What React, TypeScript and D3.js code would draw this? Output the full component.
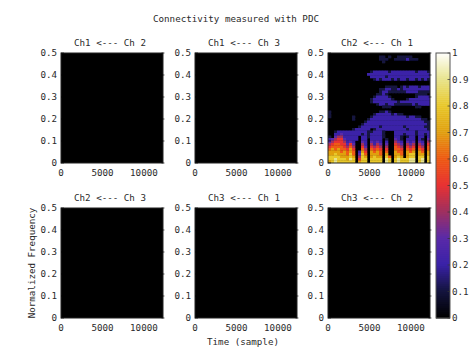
import React from "react";
import * as d3 from "d3";

const titles = ["Ch1 <--- Ch 2", "Ch1 <--- Ch 3", "Ch2 <--- Ch 1", "Ch2 <--- Ch 3", "Ch3 <--- Ch 1", "Ch3 <--- Ch 2"];
const xTicks = [0, 5000, 10000];
const yTicks = [0, 0.1, 0.2, 0.3, 0.4, 0.5];
const barTicks = [0, 0.1, 0.2, 0.3, 0.4, 0.5, 0.6, 0.7, 0.8, 0.9, 1];
const colorStops = [0, 0.1, 0.2, 0.3, 0.4, 0.5, 0.6, 0.7, 0.8, 0.9, 1];
const colorValues = ["#000000", "#14143f", "#3a22a8", "#5a2aa8", "#a0305f", "#e83232", "#ee5a12", "#e0a010", "#e8c82a", "#e8e48e", "#ffffff"];
// One row per frequency step, top (0.5) to bottom (0); each digit is PDC x 10.
const heatRows = [
  "0000000000000000000000000000000000",
  "0000000000000000011010011111000000",
  "0000000000000000011100111121110000",
  "0000000000000000001000000000000000",
  "0000000000000000000000000000000000",
  "0000000000000000000000000000000000",
  "0000000000000000000000000000000000",
  "0000000000000012222212222222212221",
  "0000000000000222222222222222222222",
  "0000000000000022222122222222222222",
  "0000000000000001212221212212212121",
  "0000000000000000000000000000000000",
  "0000000000000000000000000000000000",
  "0000000000000000000111101212221222",
  "0000000000000000011221121222222222",
  "0000000000000000012211111122221111",
  "0000000000000000112100000000011110",
  "0000000000000001222210000000012222",
  "0000000000000012222221000012222222",
  "0000000000000012222222212222222222",
  "0000000000000000122122111111212222",
  "0000000000000000001110000000011000",
  "0000000000000000000000000000000000",
  "1000000000000000011210000000000000",
  "1000000000000001222221211000000000",
  "1000000010000012222222222212211000",
  "0000000010000122222222222222222110",
  "0000000000001222222222222222222211",
  "0000000000012222222222222222222221",
  "0000000000122222212222222122222211",
  "0000000012222201222222222212222221",
  "0012222222222112221000222222212222",
  "0022322222212122221000222122212212",
  "1034422222022122221000221012202202",
  "2345532222022022220100321022202103",
  "3455542320032032320200432032303204",
  "4566553530042042430300543043404305",
  "5666654640053054540400654054505406",
  "6767665750064065650500665065606506",
  "7777676760275076760600766076707607",
  "7787776860386077760700776078807707",
  "8888777870487078770860787078808808",
  "8898887980588088880980898889908908",
  "7898888880788088880980898889908908",
];

const panelXs = [61, 195, 328];
const panelYs = [53, 208];
const PW = 102;
const PH = 110;
const FONT = "'DejaVu Sans Mono', monospace";
const FS = 9.2;
const INK = "#2a2a2a";

const color = d3.scaleLinear<string>().domain(colorStops).range(colorValues).clamp(true);
const xScale = d3.scaleLinear().domain([0, 12300]).range([0, PW]);
const yScale = d3.scaleLinear().domain([0, 0.5]).range([PH, 0]);
const colBand = d3.scaleBand<number>().domain(d3.range(heatRows[0].length)).range([0, PW]);
const rowBand = d3.scaleBand<number>().domain(d3.range(heatRows.length)).range([0, PH]);
const barY = d3.scaleLinear().domain([0, 1]).range([318, 53]);
const barSteps = d3.range(0, 1, 1 / 132);

function Panel({ idx }: { idx: number }) {
  const px = panelXs[idx % 3];
  const py = panelYs[Math.floor(idx / 3)];
  const hasHeat = idx === 2;
  return (
    <g transform={`translate(${px},${py})`}>
      <rect width={PW} height={PH} fill="#000" />
      {hasHeat && (
        <g clipPath="url(#panelClip)">
          <g filter="url(#soft)">
            {heatRows.flatMap((row, r) =>
              row.split("").map((ch, c) => {
                const v = +ch / 10;
                return v > 0 ? (
                  <rect key={`${r}-${c}`} x={colBand(c)} y={rowBand(r)} width={colBand.bandwidth() + 0.3} height={rowBand.bandwidth() + 0.3} fill={color(v)} />
                ) : null;
              })
            )}
          </g>
        </g>
      )}
      <rect width={PW} height={PH} fill="none" stroke="#222" strokeWidth={1} />
      {yTicks.map((t) => (
        <g key={t}>
          <line x1={0} x2={PW + 1.5} y1={yScale(t)} y2={yScale(t)} stroke="#000" strokeWidth={0.6} strokeDasharray={`3 ${PW - 4.5} 3`} />
          <text x={-4} y={yScale(t) + 3} textAnchor="end" fontFamily={FONT} fontSize={FS} fill={INK}>{d3.format("~g")(t)}</text>
        </g>
      ))}
      {xTicks.map((t) => (
        <text key={t} x={xScale(t)} y={PH + 13} textAnchor="middle" fontFamily={FONT} fontSize={FS} fill={INK}>{t}</text>
      ))}
      <text x={PW / 2 - 2} y={-7} textAnchor="middle" fontFamily={FONT} fontSize={FS} fill={INK}>{titles[idx]}</text>
    </g>
  );
}

export default function App() {
  return (
    <svg width={474} height={354} style={{ position: "absolute", left: 0, top: 0, background: "#fff" }}>
      <defs>
        <clipPath id="panelClip"><rect width={PW} height={PH} /></clipPath>
        <filter id="soft" x="-5%" y="-5%" width="110%" height="110%"><feGaussianBlur stdDeviation={0.45} /></filter>
      </defs>
      <rect width={474} height={354} fill="#fff" />
      <text x={236} y={22} textAnchor="middle" fontFamily={FONT} fontSize={FS} fill={INK}>Connectivity measured with PDC</text>
      {titles.map((_, i) => <Panel key={i} idx={i} />)}
      <text x={243} y={345} textAnchor="middle" fontFamily={FONT} fontSize={FS} fill={INK}>Time (sample)</text>
      <text transform="translate(35,263) rotate(-90)" textAnchor="middle" fontFamily={FONT} fontSize={FS} fill={INK}>Normalized Frequency</text>
      {barSteps.map((v) => (
        <rect key={v} x={436} y={barY(v + 1 / 132)} width={14} height={barY(v) - barY(v + 1 / 132) + 0.5} fill={color(v)} />
      ))}
      <rect x={436} y={53} width={14} height={265} fill="none" stroke="#555" strokeWidth={1} />
      {barTicks.map((t) => (
        <g key={t}>
          <line x1={447.5} x2={450} y1={barY(t)} y2={barY(t)} stroke="#333" strokeWidth={0.7} />
          <text x={452} y={barY(t) + 3} fontFamily={FONT} fontSize={FS} fill={INK}>{d3.format("~g")(t)}</text>
        </g>
      ))}
    </svg>
  );
}
